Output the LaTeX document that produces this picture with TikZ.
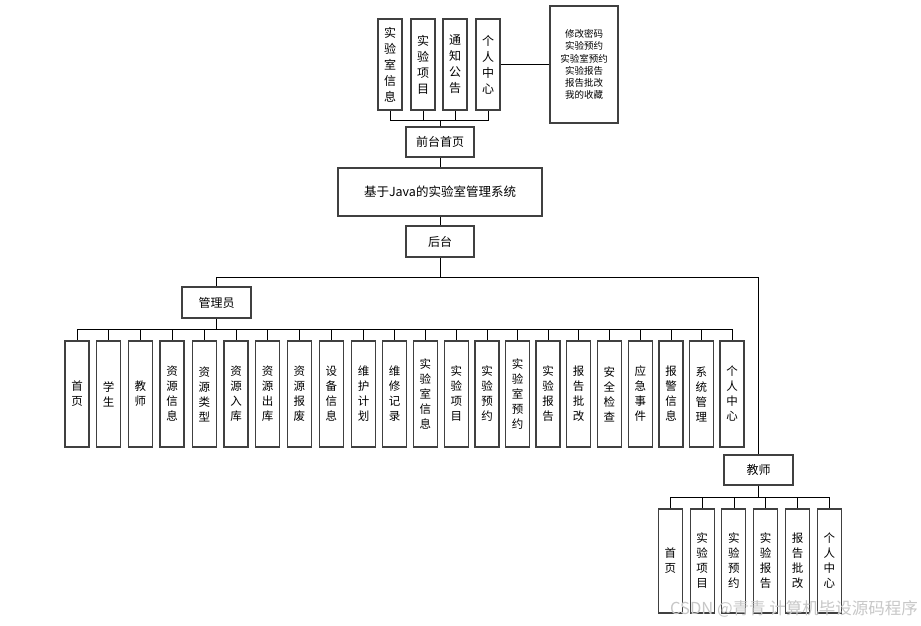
\documentclass[tikz,border=0pt]{standalone}
\usepackage{fontspec}
\setmainfont{Noto Sans CJK SC}
\begin{document}
\begin{tikzpicture}[x=1pt,y=-1pt,
  box/.style={draw=black!75, line width=1.1pt, fill=white, inner sep=0pt, align=center},
  vbox/.style={box, minimum width=24pt, font=\fontsize{11.5}{15}\selectfont},
  hbox/.style={box, minimum width=68pt, minimum height=30pt, font=\fontsize{12}{14}\selectfont},
  conn/.style={draw=black, line width=0.8pt}]
\useasboundingbox (0,0) rectangle (921,625);
% front end
\node[vbox, minimum height=91pt, font=\fontsize{12}{16}\selectfont] (t1) at (390,64.5) {实\\验\\室\\信\\息};
\node[vbox, minimum height=91pt, font=\fontsize{12}{16}\selectfont] (t2) at (423,64.5) {实\\验\\项\\目};
\node[vbox, minimum height=91pt, font=\fontsize{12}{16}\selectfont] (t3) at (455,64.5) {通\\知\\公\\告};
\node[vbox, minimum height=91pt, font=\fontsize{12}{16}\selectfont] (t4) at (488,64.5) {个\\人\\中\\心};
\node[box, minimum width=68pt, minimum height=117pt, font=\fontsize{9.5}{12.2}\selectfont] (tr) at (584,64.5) {修改密码\\实验预约\\实验室预约\\实验报告\\报告批改\\我的收藏};
\node[hbox] (qt) at (440,142) {前台首页};
\node[box, minimum width=204pt, minimum height=48pt, font=\fontsize{12.5}{14}\selectfont] (sys) at (440,192) {基于Java的实验室管理系统};
\node[hbox, minimum height=31pt] (ht) at (440,241.5) {后台};
\node[hbox, minimum width=69pt, minimum height=31pt] (adm) at (216.5,302.5) {管理员};
\node[hbox, minimum width=69pt] (tea) at (758.5,470) {教师};
% connectors front
\foreach \i in {1,2,3,4} \draw[conn] (qt.north) -- ++(0,-6) -| (t\i.south);
\draw[conn] (t4.east) -- (tr.west);
\draw[conn] (qt.south) -- (sys.north);
\draw[conn] (sys.south) -- (ht.north);
\draw[conn] (ht.south) -- ++(0,20) coordinate (hb);
\draw[conn] (hb) -| (adm.north);
\draw[conn] (hb) -| (tea.north);
% admin children
\draw[conn] (adm.south) -- ++(0,11) coordinate (ab);
\foreach \x/\t [count=\i] in {65/{首\\页},96.7/{学\\生},128.3/{教\\师},160/{资\\源\\信\\息},192.3/{资\\源\\类\\型},224/{资\\源\\入\\库},255.7/{资\\源\\出\\库},287.3/{资\\源\\报\\废},319.3/{设\\备\\信\\息},351.7/{维\\护\\计\\划},382.7/{维\\修\\记\\录},413.3/{实\\验\\室\\信\\息},444.3/{实\\验\\项\\目},475/{实\\验\\预\\约},505.7/{实\\验\\室\\预\\约},536/{实\\验\\报\\告},566.7/{报\\告\\批\\改},597.3/{安\\全\\检\\查},628.3/{应\\急\\事\\件},659/{报\\警\\信\\息},689.3/{系\\统\\管\\理},720/{个\\人\\中\\心}} {
  \node[vbox, minimum height=106pt] (a\i) at ({\x+12},394) {\t};
  \draw[conn] (ab) -| (a\i.north);
}
% teacher children
\draw[conn] (tea.south) -- ++(0,12) coordinate (tb);
\foreach \t [count=\i from 0] in {{首\\页},{实\\验\\项\\目},{实\\验\\预\\约},{实\\验\\报\\告},{报\\告\\批\\改},{个\\人\\中\\心}} {
  \node[vbox, minimum height=104pt] (c\i) at ({670.3+31.8*\i},561) {\t};
  \draw[conn] (tb) -| (c\i.north);
}
\node[anchor=east, inner sep=0pt, text=black!22, font=\fontsize{16.5}{18}\selectfont] (wm) at (918,609) {CSDN @青青\ 计算机毕设源码程序};
\end{tikzpicture}
\end{document}
